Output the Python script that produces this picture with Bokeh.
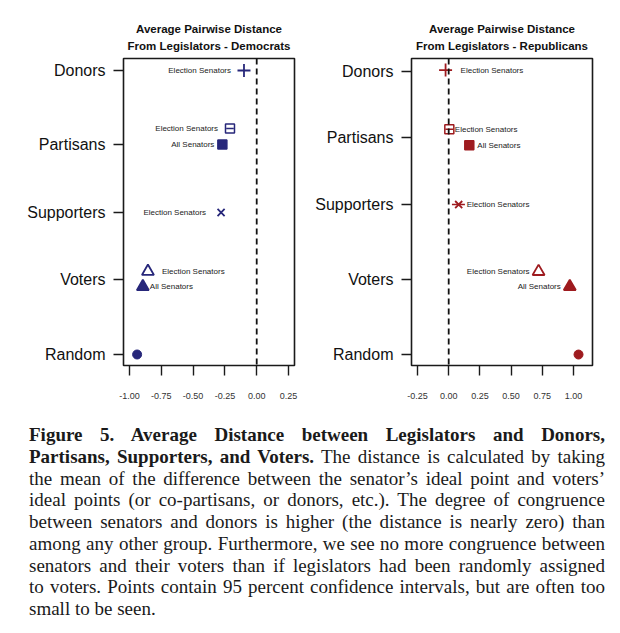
import math
from bokeh.plotting import figure
from bokeh.models import (Range1d, FixedTicker, Span, Title, NumeralTickFormatter, Div)
from bokeh.layouts import row, column
from bokeh.embed import file_html
from bokeh.resources import INLINE
from bokeh.core.properties import value

nan = float("nan")

# ---------------- data ----------------
groups = ["Donors", "Partisans", "Supporters", "Voters", "Random"]

dem_election = [-0.10, -0.21, -0.28, -0.855, nan]
dem_all = [nan, -0.27, nan, -0.895, nan]
dem_random = [nan, nan, nan, nan, -0.94]
dem_ci_low = [nan, -0.24, nan, nan, nan]
dem_ci_high = [nan, -0.18, nan, nan, nan]

rep_election = [-0.025, 0.005, 0.08, 0.72, nan]
rep_all = [nan, 0.165, nan, 0.97, nan]
rep_random = [nan, nan, nan, nan, 1.04]
rep_ci_low = [nan, -0.027, 0.026, nan, nan]
rep_ci_high = [nan, 0.037, 0.13, nan, nan]

dem_x_ticks = [-1.0, -0.75, -0.5, -0.25, 0.0, 0.25]
rep_x_ticks = [-0.25, 0.0, 0.25, 0.5, 0.75, 1.0]

election_label = "Election Senators"
all_label = "All Senators"

dem_title = ["Average Pairwise Distance", "From Legislators - Democrats"]
rep_title = ["Average Pairwise Distance", "From Legislators - Republicans"]

caption_lines = [
    "<b>Figure 5. Average Distance between Legislators and Donors,</b>",
    "<b>Partisans, Supporters, and Voters.</b> The distance is calculated by taking",
    "the mean of the difference between the senator\u2019s ideal point and voters\u2019",
    "ideal points (or co-partisans, or donors, etc.). The degree of congruence",
    "between senators and donors is higher (the distance is nearly zero) than",
    "among any other group. Furthermore, we see no more congruence between",
    "senators and their voters than if legislators had been randomly assigned",
    "to voters. Points contain 95 percent confidence intervals, but are often too",
    "small to be seen.",
]

# ---------------- layout / style ----------------
DEM_COLOR = "#27277a"
REP_COLOR = "#9e1b1f"
SANS = "Liberation Sans"

dem_pos = [5.0, 3.958, 3.0, 2.056, 1.0]
rep_pos = [5.0, 4.067, 3.12, 2.06, 1.0]
dem_elec_dy = [0.0, 0.225, 0.0, 0.113, 0.0]
dem_all_dy = [0.0, 0.0, 0.0, -0.10, 0.0]
rep_elec_dy = [0.02, 0.117, 0.0, 0.113, 0.0]
rep_all_dy = [0.0, -0.109, 0.0, -0.10, 0.0]

elec_markers = ["cross", "square", "x", "triangle", None]
all_markers = [None, "square", None, "triangle", None]

dem_elec_lab = [(-13, "right"), (-12, "right"), (-15, "right"), (14, "left"), None]
dem_all_lab = [None, (-8, "right"), None, (7, "left"), None]
rep_elec_lab = [(15, "left"), (5.5, "left"), (8, "left"), (-9, "right"), None]
rep_all_lab = [None, (8, "left"), None, (-9, "right"), None]


def make_panel(title_lines, color, pos, elec, alls, rnd, ci_lo, ci_hi,
               elec_dy, all_dy, elec_lab, all_lab, xticks, xr, yr, bl, fw, br):
    p = figure(width=bl + fw + br, height=419, x_range=Range1d(*xr), y_range=Range1d(*yr),
               output_backend="svg", toolbar_location=None, title=None,
               min_border_left=bl, min_border_right=br,
               min_border_top=58, min_border_bottom=54)
    p.xgrid.visible = False
    p.ygrid.visible = False
    p.outline_line_color = "#1a1a1a"
    p.outline_line_width = 1.6
    p.background_fill_color = "white"
    p.border_fill_color = "white"

    for ax in (p.xaxis[0], p.yaxis[0]):
        ax.axis_line_color = None
        ax.major_tick_out = 10
        ax.major_tick_in = 0
        ax.minor_tick_line_color = None
        ax.major_tick_line_width = 1.4
        ax.major_tick_line_color = "#1a1a1a"
        ax.major_label_text_font = SANS

    p.xaxis.ticker = FixedTicker(ticks=xticks)
    p.xaxis.formatter = NumeralTickFormatter(format="0.00")
    p.xaxis.major_label_text_font_size = "9px"
    p.xaxis.major_label_text_color = "#333333"
    p.xaxis.major_label_standoff = 17

    p.yaxis.ticker = FixedTicker(ticks=pos)
    p.yaxis.major_label_overrides = {pp: g for pp, g in zip(pos, groups)}
    p.yaxis.major_label_text_font_size = "16px"
    p.yaxis.major_label_text_color = "#111111"
    p.yaxis.major_label_standoff = 8

    p.add_layout(Span(location=0, dimension="height", line_dash="6 4",
                      line_width=1.8, line_color="#111111"))

    # confidence intervals
    for i in range(len(groups)):
        if not math.isnan(ci_lo[i]):
            y = pos[i] + elec_dy[i]
            p.segment(x0=[ci_lo[i]], x1=[ci_hi[i]], y0=[y], y1=[y],
                      line_color=color, line_width=1.6)

    def draw(vals, dys, markers, filled, labs, text):
        for i in range(len(groups)):
            v = vals[i]
            if math.isnan(v):
                continue
            y = pos[i] + dys[i]
            m = markers[i]
            if m in ("cross", "x"):
                p.scatter([v], [y], marker=m, size=13 if m == "cross" else 10,
                          line_color=color, line_width=1.8)
            elif m == "square":
                p.scatter([v], [y], marker="square", size=9, line_color=color,
                          line_width=1.5, fill_color=color if filled else None)
            elif m == "triangle":
                p.scatter([v], [y], marker="triangle", size=12, line_color=color,
                          line_width=1.8, fill_color=color if filled else "white")
            if labs[i] is not None:
                dx, al = labs[i]
                p.text([v], [y], text=[text], x_offset=dx, text_align=al,
                       text_baseline="middle", text_font=value(SANS),
                       text_font_size="8px", text_color="#222222")

    draw(elec, elec_dy, elec_markers, False, elec_lab, election_label)
    draw(alls, all_dy, all_markers, True, all_lab, all_label)
    for i in range(len(groups)):
        if not math.isnan(rnd[i]):
            p.scatter([rnd[i]], [pos[i]], marker="circle", size=9,
                      fill_color=color, line_color=color)

    p.add_layout(Title(text=title_lines[1], align="center", text_font=SANS,
                       text_font_size="11.5px", text_font_style="bold",
                       vertical_align="top", text_line_height=1.0,
                       text_color="#111111", standoff=10, offset=0), "above")
    p.add_layout(Title(text=title_lines[0], align="center", text_font=SANS,
                       text_font_size="11.5px", text_font_style="bold",
                       vertical_align="bottom", text_line_height=1.0,
                       text_color="#111111", standoff=0, offset=0), "above")
    return p


p1 = make_panel(dem_title, DEM_COLOR, dem_pos, dem_election, dem_all, dem_random,
                dem_ci_low, dem_ci_high, dem_elec_dy, dem_all_dy,
                dem_elec_lab, dem_all_lab, dem_x_ticks,
                (-1.047, 0.297), (0.845, 5.169), 123, 171, 13)
p2 = make_panel(rep_title, REP_COLOR, rep_pos, rep_election, rep_all, rep_random,
                rep_ci_low, rep_ci_high, rep_elec_dy, rep_all_dy,
                rep_elec_lab, rep_all_lab, rep_x_ticks,
                (-0.298, 1.152), (0.845, 5.184), 104, 181, 17)

line_style = "display:block;text-align:justify;text-align-last:justify;"
last_style = "display:block;text-align:left;"
html_lines = []
for k, ln in enumerate(caption_lines):
    st = last_style if k == len(caption_lines) - 1 else line_style
    html_lines.append('<div style="%s">%s</div>' % (st, ln))
html = ('<div style="margin-left:24px;width:576px;font-family:\'Liberation Serif\';'
        'font-size:19px;line-height:21.75px;color:#1a1a1a;">' + "".join(html_lines) + "</div>")
cap = Div(text=html, width=604, height=196)

layout = column(row(p1, p2), cap)
open("out.html", "w").write(file_html(layout, INLINE))
